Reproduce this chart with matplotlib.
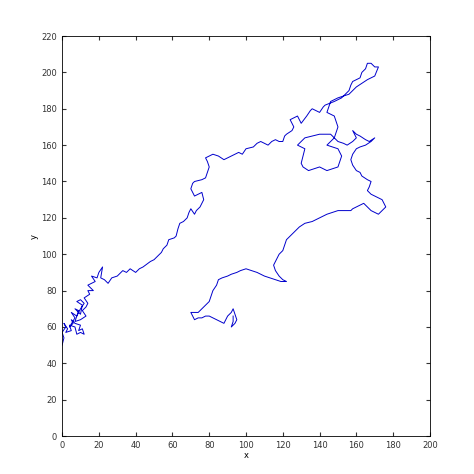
import matplotlib
matplotlib.use("Agg")
import matplotlib.pyplot as plt

walk_points = [(0,50),(1,54),(0,57),(2,60),(1,62),(3,59),(2,57),(5,58),(4,61),(7,60),(8,56),(10,57),(12,56),(11,59),(9,58),(10,61),(7,62),(5,64),(6,62),(4,60),(7,65),(5,68),(8,66),(9,69),(7,70),(10,67),(11,72),(8,74),(10,75),(12,73),(10,70),(8,66),(7,63),(10,64),(13,66),(11,69),(13,71),(14,73),(12,76),(15,78),(14,80),(17,80),(14,83),(18,85),(16,88),(19,87),(20,90),(22,93),(21,87),(23,86),(25,84),(27,87),(30,88),(33,91),(35,90),(37,92),(40,90),(42,92),(44,93),(48,96),(50,97),(52,99),(54,101),(55,103),(57,105),(58,108),(61,109),(62,110),(63,114),(64,117),(66,118),(68,120),(69,123),(70,125),(72,122),(73,124),(75,126),(76,128),(77,130),(76,134),(74,133),(72,132),(70,136),(71,139),(72,140),(76,141),(78,142),(79,145),(80,148),(79,151),(78,153),(82,155),(85,154),(88,152),(90,153),(92,154),(96,156),(98,155),(100,158),(104,159),(106,161),(108,162),(110,161),(112,160),(114,162),(116,163),(118,162),(120,162),(121,165),(122,166),(125,168),(126,170),(124,174),(128,176),(130,172),(133,176),(135,179),(136,180),(140,178),(142,181),(143,182),(148,184),(150,185),(152,186),(154,188),(156,190),(157,193),(158,195),(162,197),(163,200),(165,202),(166,205),(168,205),(170,203),(172,203),(170,198),(168,197),(166,196),(163,194),(160,192),(158,190),(156,188),(153,187),(150,186),(146,184),(145,181),(144,178),(146,177),(148,176),(149,173),(150,170),(149,167),(148,164),(146,162),(144,160),(147,159),(150,158),(151,156),(152,154),(151,151),(150,148),(147,147),(144,146),(142,147),(140,148),(137,147),(134,146),(131,148),(130,150),(131,154),(132,158),(130,159),(128,160),(130,162),(132,164),(136,165),(140,166),(143,166),(146,166),(148,164),(150,162),(153,161),(155,160),(158,162),(160,164),(158,168),(160,166),(162,165),(165,163),(167,162),(170,164),(168,162),(165,160),(162,159),(160,158),(158,155),(157,152),(158,149),(160,146),(162,145),(163,143),(166,141),(168,140),(167,137),(166,135),(168,133),(170,132),(172,131),(174,130),(175,128),(176,126),(174,124),(172,122),(170,123),(168,124),(166,126),(164,128),(162,127),(160,126),(158,125),(157,124),(154,124),(150,124),(147,123),(144,122),(142,121),(140,120),(136,118),(132,117),(129,115),(126,112),(124,110),(122,108),(121,105),(120,102),(118,100),(117,98),(116,96),(115,94),(116,91),(118,88),(120,86),(122,85),(119,85),(116,86),(113,87),(110,88),(108,89),(106,90),(103,91),(100,92),(97,91),(95,90),(92,89),(90,88),(87,87),(85,86),(84,83),(82,80),(81,77),(80,74),(79,73),(78,72),(76,70),(74,68),(72,68),(70,68),(71,66),(72,64),(74,65),(76,65),(78,66),(80,66),(82,65),(84,64),(86,63),(88,62),(89,64),(90,66),(92,68),(93,70),(94,67),(95,64),(94,62),(92,60),(93,63),(93,66)]
walk_x = [p[0] for p in walk_points]
walk_y = [p[1] for p in walk_points]

fig = plt.figure(figsize=(4.74, 4.74), dpi=100)
ax = fig.add_axes([0.131, 0.080, 0.776, 0.844])
ax.plot(walk_x, walk_y, color="#0000cc", lw=0.7)
ax.set_xlim(0, 200)
ax.set_ylim(0, 220)
ax.set_xticks(range(0, 201, 20))
ax.set_yticks(range(0, 221, 20))
ax.tick_params(direction="in", labelsize=6, length=3, top=True, right=True, labeltop=False, labelright=False, colors="#333333")
ax.set_xlabel("x", fontsize=6, labelpad=1)
ax.set_ylabel("y", fontsize=6, labelpad=2)
for s in ax.spines.values():
    s.set_linewidth(0.6)
fig.savefig("out.png", dpi=100)
